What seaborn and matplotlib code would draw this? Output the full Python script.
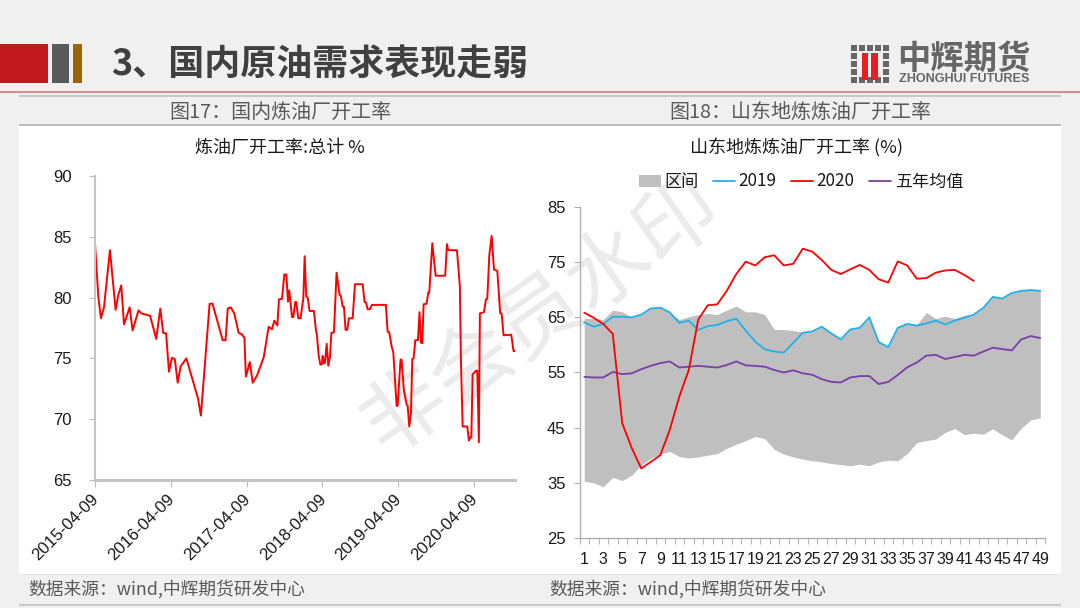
import pandas as pd
import numpy as np
import matplotlib
matplotlib.use('Agg')
import matplotlib.pyplot as plt
import matplotlib.dates as mdates
from matplotlib.patches import Rectangle, Patch
from matplotlib.lines import Line2D
from matplotlib.transforms import ScaledTranslation
import seaborn as sns

# left chart: weeks after the first date, refinery rate
start_date = '2015-04-09'
weeks = [0, 2.3, 4.1, 6.2, 10.3, 14.2, 16, 18.1, 20, 23.9, 25.9, 30, 32, 38, 42.2, 45, 47, 49, 51, 53, 55, 57, 59, 63,
         71, 73, 79, 81, 88, 90, 91.5, 93.6, 96, 99, 101, 103, 104, 106.7, 108.7, 111.7, 116.3, 119.7, 122, 123.6,
         125.7, 126.8, 128.9, 130.5, 131.9, 133, 133.9, 135.8, 136.7, 138, 138.7, 140.1, 141.7, 143.6, 144.5, 145.6,
         146.6, 147.9, 150.9, 152.3, 153, 154.1, 155.3, 156.4, 156.9, 157.8, 158.5, 159.7, 160.8, 162, 162.9, 164.7,
         166.5, 168.6, 169.5, 170.7, 171.6, 172.7, 173.9, 175, 177.6, 179.2, 180.3, 184.5, 185.8, 186.8, 187.9, 189.5,
         190.9, 200.5, 201.7, 202.8, 204.5, 205.6, 207.9, 208.6, 210.6, 211.3, 212.9, 214.8, 215.5, 216.6, 217.8,
         218.7, 219.6, 220.8, 222.6, 223.7, 224.7, 225.6, 226.5, 228.6, 229.7, 230.4, 232.5, 234.8, 241.4, 242.6,
         243.5, 249.5, 251.5, 252.2, 253.4, 256.6, 257.7, 258.7, 259.4, 260.3, 261.2, 262.6, 263.5, 264.6, 265.3,
         268.1, 269.5, 270.4, 271.8, 273.4, 275, 277.3, 279.3, 280.3, 281.6, 286.9, 288.5, 289.2]
rate_total = [84.47, 80.04, 78.3, 79.2, 83.9, 79.0, 80.2, 81.0, 77.8, 79.2, 77.3, 78.95, 78.7, 78.5, 76.6, 79.1, 77.1,
              77.05, 73.9, 75.05, 74.95, 73.0, 74.35, 75.0, 71.7, 70.3, 79.5, 79.5, 76.5, 76.5, 79.1, 79.2, 78.7, 77.1,
              77.0, 76.7, 73.5, 74.7, 73.0, 73.6, 75.1, 77.6, 77.4, 78.1, 77.7, 79.86, 79.9, 81.9, 81.9, 79.67, 80.6,
              78.4, 78.4, 79.64, 79.64, 78.3, 78.3, 79.95, 83.4, 80.1, 80.0, 78.9, 78.9, 77.3, 76.9, 75.3, 74.5, 74.5,
              75.2, 74.6, 74.65, 76.2, 74.4, 75.15, 77.1, 77.15, 82.05, 80.2, 80.15, 79.25, 79.25, 77.35, 77.35, 78.3,
              78.3, 81.1, 81.1, 81.1, 79.65, 79.6, 79.05, 79.05, 79.4, 79.4, 77.2, 77.15, 75.97, 75.5, 71.1, 71.1, 74.9,
              74.9, 72.4, 71.2, 71.1, 69.4, 70.5, 74.95, 75.0, 76.5, 76.5, 78.8, 76.3, 76.25, 79.45, 79.5, 80.4, 80.4,
              84.47, 81.8, 81.8, 84.4, 83.9, 83.9, 80.9, 75, 69.4, 69.4, 68.25, 68.5, 68.5, 73.7, 73.8, 74.0, 74.0,
              68.1, 78.7, 78.8, 79.85, 79.9, 83.5, 85.07, 82.3, 82.2, 78.7, 78.7, 76.9, 76.95, 75.6, 75.6]
year_ticks = ['2015-04-09', '2016-04-09', '2017-04-09', '2018-04-09', '2019-04-09', '2020-04-09']

# right chart: week of year 1..49
week_no = list(range(1, 50))
rate_2020 = [65.85, 64.9, 63.8, 62.0, 45.8, 41.3, 37.6, 38.8, 40.0, 44.6, 50.6, 55.45, 64.6, 67.2, 67.35, 69.8, 72.85,
             75.1, 74.4, 75.9, 76.25, 74.4, 74.7, 77.45, 76.9, 75.4, 73.6, 72.85, 73.7, 74.5, 73.6, 71.9, 71.3, 75.15,
             74.4, 72.0, 72.1, 73.1, 73.5, 73.6, 72.7, 71.6]
rate_2019 = [64.1, 63.3, 63.8, 65.1, 65.1, 65.0, 65.5, 66.6, 66.75, 65.9, 64.0, 64.4, 62.7, 63.4, 63.6, 64.3, 64.75,
             62.6, 60.6, 59.2, 58.8, 58.6, 60.4, 62.2, 62.45, 63.3, 62.1, 61.0, 62.8, 63.1, 65.0, 60.5, 59.6, 63.1,
             63.8, 63.5, 63.9, 64.4, 63.7, 64.4, 64.9, 65.5, 66.7, 68.7, 68.4, 69.4, 69.8, 69.95, 69.8]
rate_avg = [54.2, 54.1, 54.1, 55.1, 54.7, 54.85, 55.6, 56.2, 56.7, 57.0, 55.9, 56.05, 56.2, 56.05, 55.9, 56.35, 57.0,
            56.3, 56.2, 56.05, 55.45, 55.0, 55.4, 54.85, 54.6, 53.8, 53.3, 53.2, 54.1, 54.35, 54.35, 52.9, 53.3, 54.55,
            55.95, 56.8, 58.05, 58.2, 57.45, 57.8, 58.2, 58.05, 58.8, 59.5, 59.25, 59.0, 61.0, 61.6, 61.25]
band_high = [64.8, 64.8, 64.6, 66.3, 66.0, 65.0, 65.5, 66.6, 66.75, 65.9, 64.6, 65.1, 65.5, 65.7, 65.5, 66.3, 67.05,
             66.0, 66.0, 65.5, 62.8, 62.8, 62.6, 62.3, 62.45, 63.3, 62.1, 61.0, 62.8, 63.1, 65.0, 60.5, 59.6, 63.1,
             64.0, 63.6, 65.9, 64.8, 65.2, 64.8, 65.4, 65.5, 66.7, 68.7, 68.4, 69.4, 69.8, 69.95, 69.8]
band_low = [35.3, 35.0, 34.3, 36.0, 35.4, 36.4, 38.2, 39.45, 40.2, 40.7, 39.75, 39.5, 39.7, 40.0, 40.3, 41.25, 42.0,
            42.65, 43.4, 43.0, 41.1, 40.2, 39.7, 39.3, 39.0, 38.8, 38.5, 38.3, 38.1, 38.4, 38.1, 38.8, 39.1, 39.0,
            40.3, 42.3, 42.65, 42.95, 44.15, 44.85, 43.75, 44.0, 43.8, 44.8, 43.7, 42.8, 44.9, 46.4, 46.8]

W, H = 1080, 608
CJK = ['Noto Sans CJK SC', 'DejaVu Sans']
NUM = ['Liberation Sans', 'Noto Sans CJK SC']

sns.set_theme(style='white')
plt.rcParams['font.family'] = CJK
plt.rcParams['axes.unicode_minus'] = False


def fx(px):
    return px / W


def fy(py):
    return 1 - py / H


def add_box(fig, x0, y0, x1, y1, color, z=-5):
    fig.add_artist(Rectangle((fx(x0), fy(y1)), (x1 - x0) / W, (y1 - y0) / H, transform=fig.transFigure,
                             facecolor=color, edgecolor='none', zorder=z))


def add_axes_px(fig, x0, y0, x1, y1):
    ax = fig.add_axes([fx(x0), fy(y1), (x1 - x0) / W, (y1 - y0) / H])
    ax.set_facecolor('none')
    return ax


fig = plt.figure(figsize=(W / 100, H / 100), dpi=100, facecolor='#f0f0f0')

# page furniture
add_box(fig, 19, 125, 1061, 574, 'white')
add_box(fig, 19, 95, 1061, 97, '#c8c8c8')
add_box(fig, 19, 124, 1061, 125.5, '#bdbdbd')
add_box(fig, 19, 574, 1061, 575, '#e4e4e4')
add_box(fig, 19, 604, 1061, 606, '#c8c8c8')
add_box(fig, 0, 91, 1080, 92.5, '#d98c8c')
add_box(fig, 0, 44, 48, 83, '#c11a1e')
add_box(fig, 52, 44, 69, 83, '#595959')
add_box(fig, 73, 44, 82, 83, '#9c6500')

# logo
for row in range(5):
    for col in range(5):
        if 1 <= row <= 3 and col in (1, 2, 3):
            continue
        add_box(fig, 851 + col * 7.9, 45 + row * 8, 857 + col * 7.9, 51 + row * 8, '#666666')
add_box(fig, 862, 53, 868, 80, '#ea1c24')
add_box(fig, 871, 53, 878, 80, '#ea1c24')
fig.text(fx(964), fy(59), '中辉期货', fontsize=24, fontweight='bold', color='#666666', ha='center', va='center',
         family=CJK)
fig.text(fx(964), fy(79.5), 'ZHONGHUI FUTURES', fontsize=9.1, fontweight='bold', color='#666666', ha='center',
         va='center', family=['Liberation Sans'])

fig.text(fx(320), fy(65.5), '3、国内原油需求表现走弱', fontsize=25.9, fontweight='bold', color='#404040', ha='center',
         va='center', family=CJK)
fig.text(fx(280), fy(113), '图17：国内炼油厂开工率', fontsize=14.4, color='#595959', ha='center', va='center')
fig.text(fx(800), fy(113), '图18：山东地炼炼油厂开工率', fontsize=14.4, color='#595959', ha='center', va='center')
fig.text(fx(280), fy(148), '炼油厂开工率:总计 %', fontsize=13, color='#1a1a1a', ha='center', va='center')
fig.text(fx(796), fy(148), '山东地炼炼油厂开工率 (%)', fontsize=13, color='#1a1a1a', ha='center', va='center')
fig.text(fx(28), fy(589), '数据来源：wind,中辉期货研发中心', fontsize=12.8, color='#595959', ha='left', va='center')
fig.text(fx(549), fy(589), '数据来源：wind,中辉期货研发中心', fontsize=12.8, color='#595959', ha='left', va='center')
fig.text(fx(541), fy(316), '非会员水印', fontsize=60, color='#ebebeb', rotation=35, ha='center', va='center',
         rotation_mode='anchor', zorder=-4)

# left chart
df_left = pd.DataFrame({'date': pd.Timestamp(start_date) + pd.to_timedelta(np.array(weeks) * 7, unit='D'),
                        'rate': rate_total})
ax1 = add_axes_px(fig, 95, 176, 515, 480)
sns.lineplot(data=df_left, x='date', y='rate', color='#ff0000', linewidth=1.4, ax=ax1, estimator=None)
ax1.set_xlim(pd.Timestamp(start_date), pd.Timestamp(start_date) + pd.Timedelta(days=289.5 * 7))
ax1.set_ylim(65, 90)
ax1.set_yticks([65, 70, 75, 80, 85, 90])
ax1.set_xticks(pd.to_datetime(year_ticks))
ax1.xaxis.set_major_formatter(mdates.DateFormatter('%Y-%m-%d'))
ax1.set_xlabel('')
ax1.set_ylabel('')
sns.despine(ax=ax1)
for side in ['left', 'bottom']:
    ax1.spines[side].set_color('#c4c4c4')
ax1.spines['left'].set_linewidth(1.5)
ax1.spines['bottom'].set_linewidth(2.2)
ax1.tick_params(axis='x', length=5, width=0.8, color='#bdbdbd', labelcolor='#1a1a1a', labelsize=12.2, bottom=True)
ax1.tick_params(axis='y', length=4, width=0.8, color='#bdbdbd', labelcolor='#1a1a1a', labelsize=12, left=True, pad=13)
for lab in ax1.get_yticklabels():
    lab.set_family(NUM)
nudge = ScaledTranslation(-4 / 100, 0, fig.dpi_scale_trans)
for lab in ax1.get_xticklabels():
    lab.set_family(NUM)
    lab.set_rotation(45)
    lab.set_ha('right')
    lab.set_rotation_mode('anchor')
    lab.set_transform(lab.get_transform() + nudge)

# right chart
df_right = pd.DataFrame({'week': week_no, '2019': rate_2019, '五年均值': rate_avg,
                         '2020': rate_2020 + [np.nan] * (len(week_no) - len(rate_2020))})
ax2 = add_axes_px(fig, 579.5, 207, 1045, 538)
ax2.fill_between(week_no, band_low, band_high, color='#bfbfbf', linewidth=0, zorder=1)
sns.lineplot(data=df_right, x='week', y='2019', color='#1fb1ea', linewidth=1.3, ax=ax2, zorder=2)
sns.lineplot(data=df_right, x='week', y='五年均值', color='#7b3fa5', linewidth=1.3, ax=ax2, zorder=3)
sns.lineplot(data=df_right, x='week', y='2020', color='#ff0000', linewidth=1.3, ax=ax2, zorder=4)
ax2.set_xlim(0.5, 49.5)
ax2.set_ylim(25, 85)
ax2.set_yticks([25, 35, 45, 55, 65, 75, 85])
ax2.set_xticks(week_no[::2])
ax2.set_xticks(np.arange(0.5, 50, 1), minor=True)
ax2.set_xlabel('')
ax2.set_ylabel('')
sns.despine(ax=ax2)
for side in ['left', 'bottom']:
    ax2.spines[side].set_color('#b0b0b0')
    ax2.spines[side].set_linewidth(1.0)
ax2.tick_params(axis='x', which='major', length=0, pad=10, labelsize=11.5, labelcolor='#1a1a1a', bottom=True)
ax2.tick_params(axis='x', which='minor', length=4, width=0.7, color='#b0b0b0', bottom=True)
ax2.tick_params(axis='y', length=4, width=0.8, color='#b0b0b0', labelsize=12, labelcolor='#1a1a1a', left=True, pad=6)
for lab in ax2.get_xticklabels() + ax2.get_yticklabels():
    lab.set_family(NUM)

handles = [Patch(facecolor='#bfbfbf', edgecolor='none'),
           Line2D([], [], color='#1fb1ea', linewidth=1.3),
           Line2D([], [], color='#ff0000', linewidth=1.3),
           Line2D([], [], color='#7b3fa5', linewidth=1.3)]
fig.legend(handles, ['区间', '2019', '2020', '五年均值'], ncol=4, frameon=False, loc='center',
           bbox_to_anchor=(fx(801), fy(181.5)), fontsize=12.3, handlelength=1.3, handletextpad=0.2, columnspacing=0.85,
           labelcolor='#1a1a1a')

fig.savefig('out.png', dpi=100, facecolor=fig.get_facecolor())
